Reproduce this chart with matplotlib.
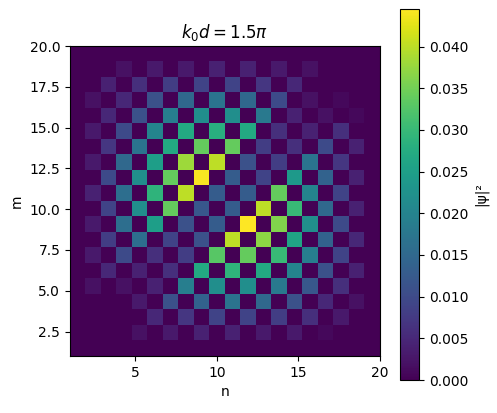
import numpy as np
import matplotlib
matplotlib.use("Agg")
import matplotlib.pyplot as plt

# rows listed top (m=20) to bottom (m=1), columns n=1..20 ; each row given as {column: value}
rows = [
 {},
 {3:.002,5:.003,7:.003,9:.004,11:.004,13:.003,15:.002},
 {2:.004,4:.006,6:.008,8:.009,10:.009,12:.007,14:.005},
 {1:.002,3:.005,5:.011,7:.015,9:.017,11:.015,13:.010,15:.002,17:.001},
 {2:.005,4:.011,6:.019,8:.022,10:.022,12:.018,14:.004,16:.002,18:.001},
 {1:.003,3:.010,5:.020,7:.027,9:.028,11:.027,13:.006,15:.004,17:.006},
 {2:.007,4:.017,6:.027,8:.034,10:.034,12:.008,14:.006,16:.010,18:.004},
 {1:.003,3:.015,5:.025,7:.038,9:.040,11:.011,13:.008,15:.017,17:.007},
 {2:.010,4:.022,6:.034,8:.044,10:.013,12:.009,14:.024,16:.014,18:.004},
 {1:.004,3:.016,5:.029,7:.040,9:.013,11:.013,13:.034,15:.020,17:.009},
 {2:.009,4:.022,6:.034,8:.012,10:.013,12:.040,14:.030,16:.015,18:.004},
 {1:.003,3:.016,5:.025,7:.011,9:.013,11:.0445,13:.036,15:.022,17:.010},
 {2:.008,4:.016,6:.009,8:.011,10:.040,12:.037,14:.026,16:.014,18:.005},
 {1:.003,3:.010,5:.006,7:.008,9:.033,11:.034,13:.030,15:.019,17:.009},
 {2:.005,4:.004,6:.006,8:.027,10:.029,12:.027,14:.020,16:.011,18:.004},
 {1:.002,3:.002,5:.004,7:.019,9:.022,11:.022,13:.018,15:.012,17:.006},
 {4:.003,6:.011,8:.014,10:.017,12:.015,14:.011,16:.005,18:.002},
 {5:.005,7:.007,9:.009,11:.009,13:.008,15:.006,17:.003},
 {4:.002,6:.003,8:.004,10:.004,12:.003,14:.003,16:.001},
 {},
]
data = np.zeros((20, 20))
for r, d in enumerate(rows):
    for c, v in d.items():
        data[r, c] = v

fig = plt.figure(figsize=(4.97, 4.13), dpi=100)
ax = fig.add_axes([70/497, 57/413, 310/413*413/497, 310/413])
im = ax.imshow(data, cmap='viridis', extent=[1, 20, 1, 20], origin='upper',
               interpolation='nearest', vmin=0, vmax=0.0445)
ax.set_title(r'$k_0d = 1.5\pi$')
ax.set_xlabel('n')
ax.set_ylabel('m')
ax.set_xticks([5, 10, 15, 20])
ax.set_yticks([2.5, 5, 7.5, 10, 12.5, 15, 17.5, 20])
cax = fig.add_axes([400/497, 33/413, 19/497, 371/413])
cb = fig.colorbar(im, cax=cax)
cb.set_label('|ψ|²')
cb.set_ticks([0, 0.005, 0.01, 0.015, 0.02, 0.025, 0.03, 0.035, 0.04])
fig.savefig('out.png', dpi=100)
